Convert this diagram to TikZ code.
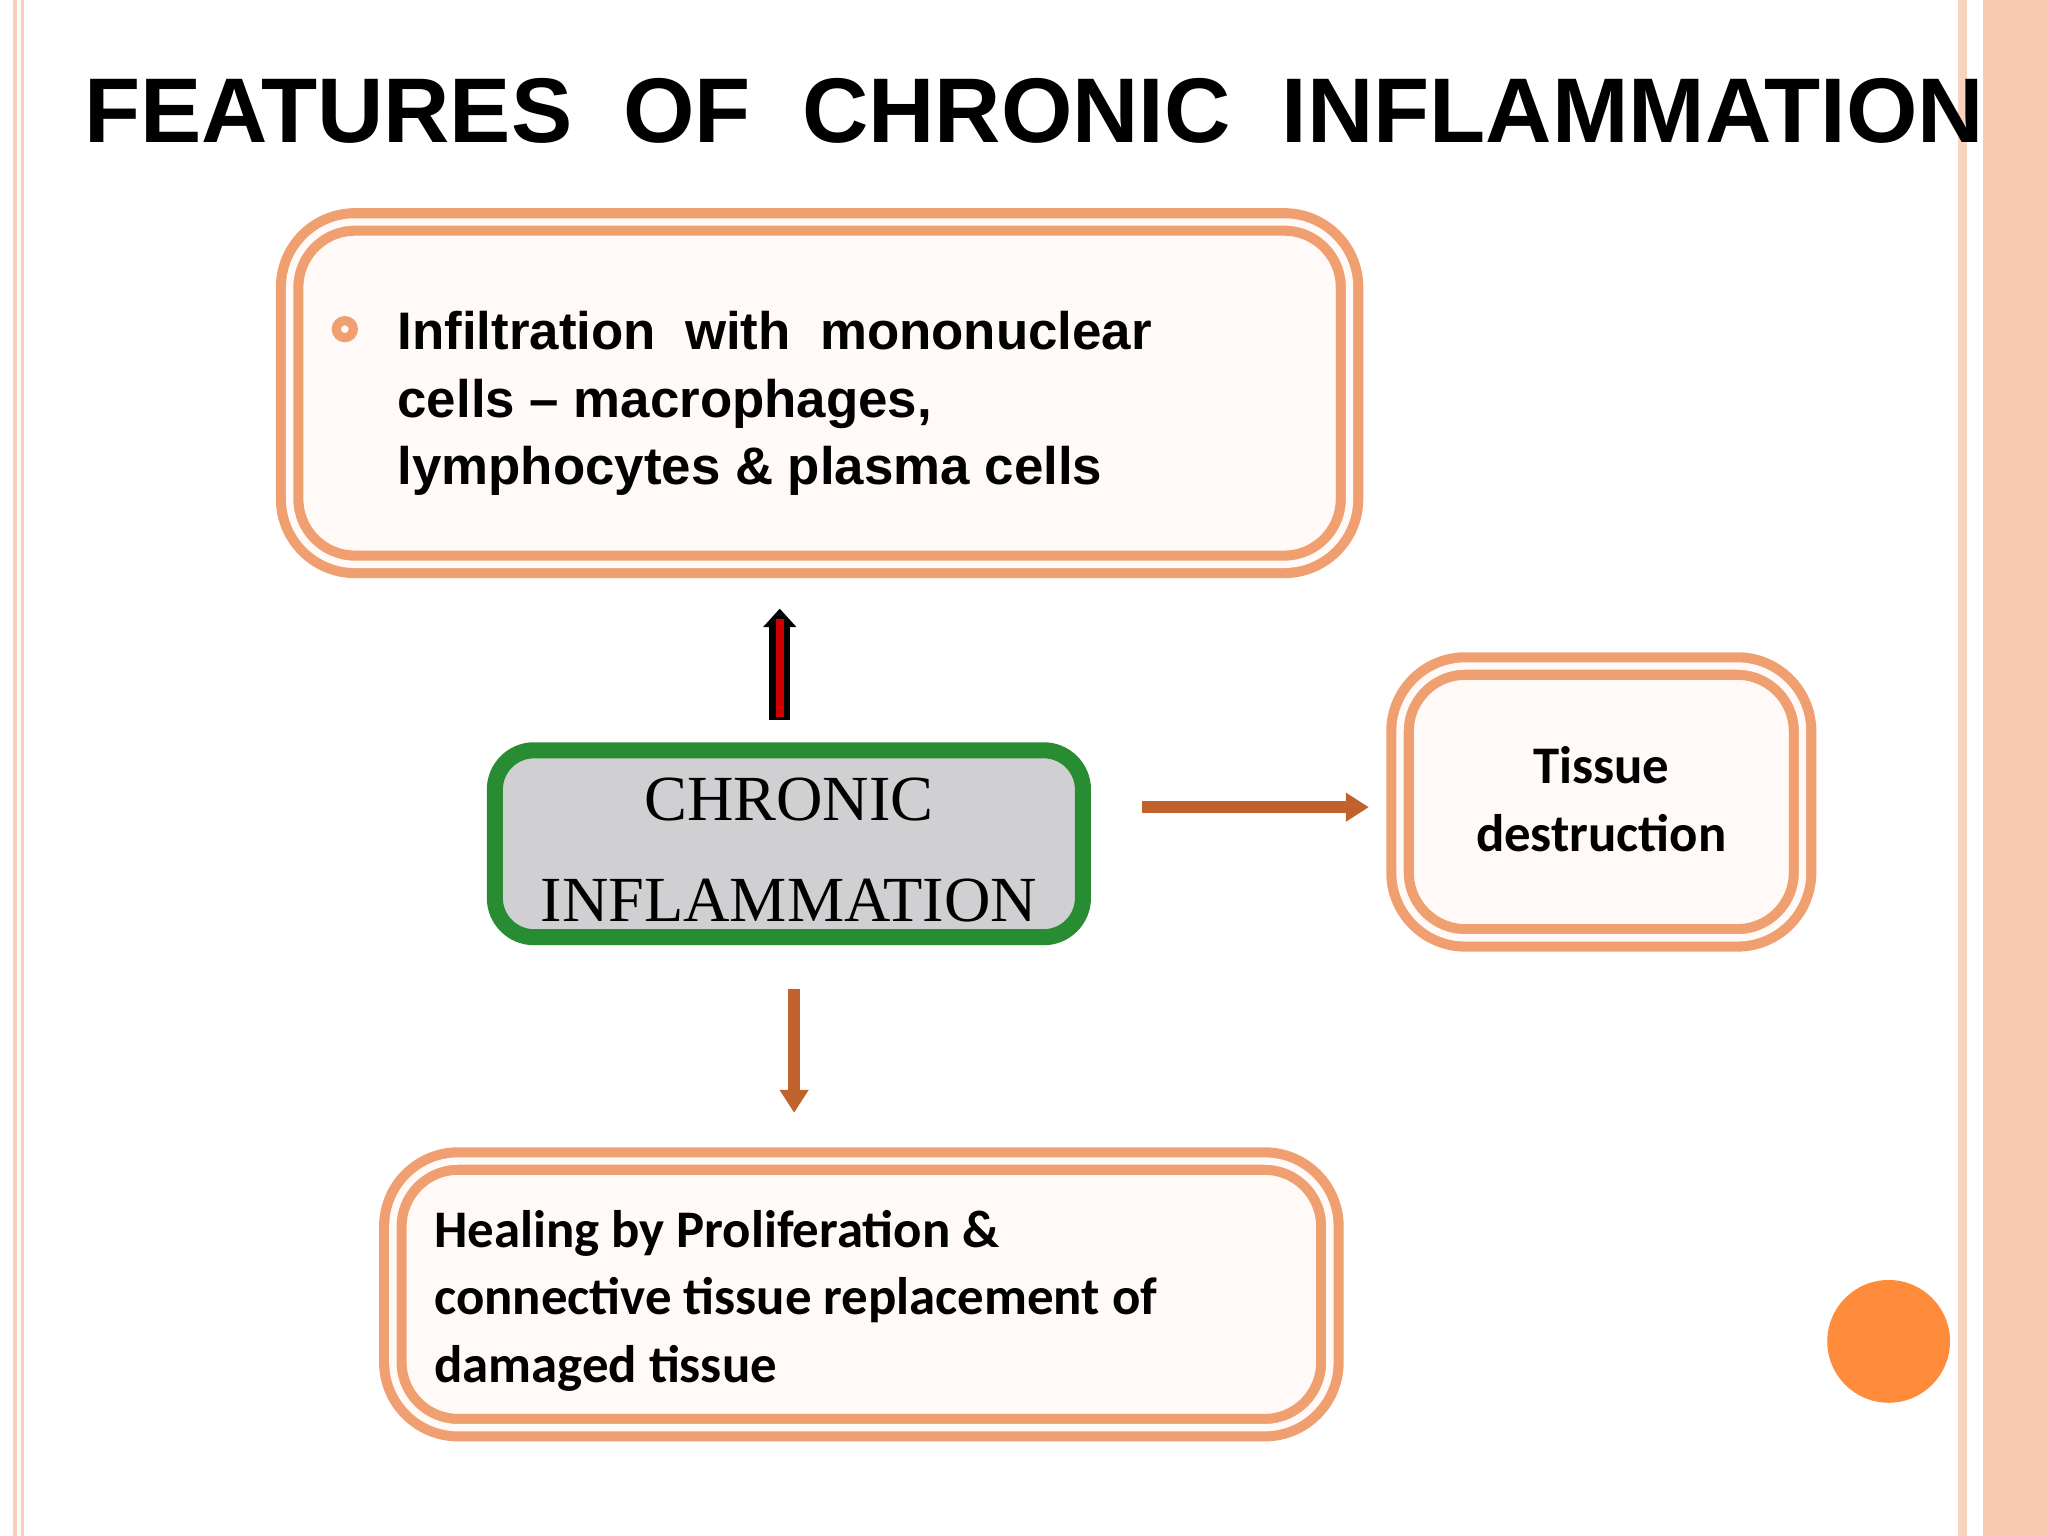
\documentclass[tikz,border=0pt]{standalone}
\usepackage{fontspec}
\setmainfont{Liberation Sans}
\newfontfamily\carl{Carlito}
\newfontfamily\myser{Liberation Serif}
\usetikzlibrary{arrows.meta}
\definecolor{bord}{HTML}{F0A070}
\definecolor{boxfill}{HTML}{FFF9F7}
\definecolor{brown}{HTML}{C0622C}
\definecolor{grn}{HTML}{288C32}
\definecolor{gry}{HTML}{D0D0D2}
\definecolor{orng}{HTML}{FF8C3A}
\begin{document}
\begin{tikzpicture}[x=0.01cm,y=-0.01cm,
  box/.style={draw=bord,line width=2.2pt,double=boxfill,double distance=1.6pt,fill=boxfill,rounded corners=0.5cm},
  txt/.style={font=\bfseries\fontsize{11.5}{14.7}\selectfont,align=left,anchor=north west},
  ctxt/.style={font=\carl\bfseries\fontsize{11.5}{14.7}\selectfont},
  barr/.style={draw=brown,line width=2.5pt,-{Triangle[length=5pt,width=6pt]}}]
\useasboundingbox (0,0) rectangle (1568,1176);
\fill[white] (0,0) rectangle (1568,1176);
\fill[bord!50] (10,0) rectangle (13,1176);
\fill[bord!50] (16,0) rectangle (18,1176);
\fill[bord!45] (1499,0) rectangle (1506,1176);
\fill[bord!55] (1518,0) rectangle (1568,1176);
\node[anchor=west,font=\bfseries\fontsize{20}{24}\selectfont] (title) at (52,85) {FEATURES\ \ OF\ \ CHRONIC\ \ INFLAMMATION};
\node[box,minimum width=8.11cm,minimum height=2.62cm] (top) at (627.5,301) {};
\draw[bord,line width=2pt] (264,252) circle (6.5);
\node[txt] (toptxt) at (292,226) {Infiltration\ \ with\ \ mononuclear\\cells -- macrophages,\\lymphocytes \& plasma cells};
\node[draw=grn,line width=3.5pt,fill=gry,rounded corners=0.3cm,minimum width=4.5cm,minimum height=1.43cm] (chr) at (604,646) {};
\node[font=\myser\fontsize{14}{22}\selectfont,align=center] (chrtxt) at (604,651) {CHRONIC\\INFLAMMATION};
\node[box,minimum width=3.08cm,minimum height=2.08cm] (tis) at (1226,614) {};
\node[ctxt,align=center] (tistxt) at (1226,612) {Tissue\\destruction};
\node[box,minimum width=7.17cm,minimum height=2.04cm] (bot) at (659.5,991) {};
\node[ctxt,align=left,anchor=north west] (bottxt) at (320,914) {Healing by Proliferation \&\\connective tissue replacement of\\damaged tissue};
\coordinate (u1) at (597,551); \coordinate (u2) at (597,466);
\draw[black,line width=4.5pt,-{Triangle[length=4pt,width=7pt]}] (u1) -- (u2);
\draw[red!80!black,line width=1.8pt] (597,549) -- (597,474);
\coordinate (r1) at (874,618); \coordinate (r2) at (1048,618);
\draw[barr] (r1) -- (r2);
\coordinate (d1) at (608,757); \coordinate (d2) at (608,852);
\draw[barr] (d1) -- (d2);
\fill[orng] (1446,1027) circle (47);
\end{tikzpicture}
\end{document}
